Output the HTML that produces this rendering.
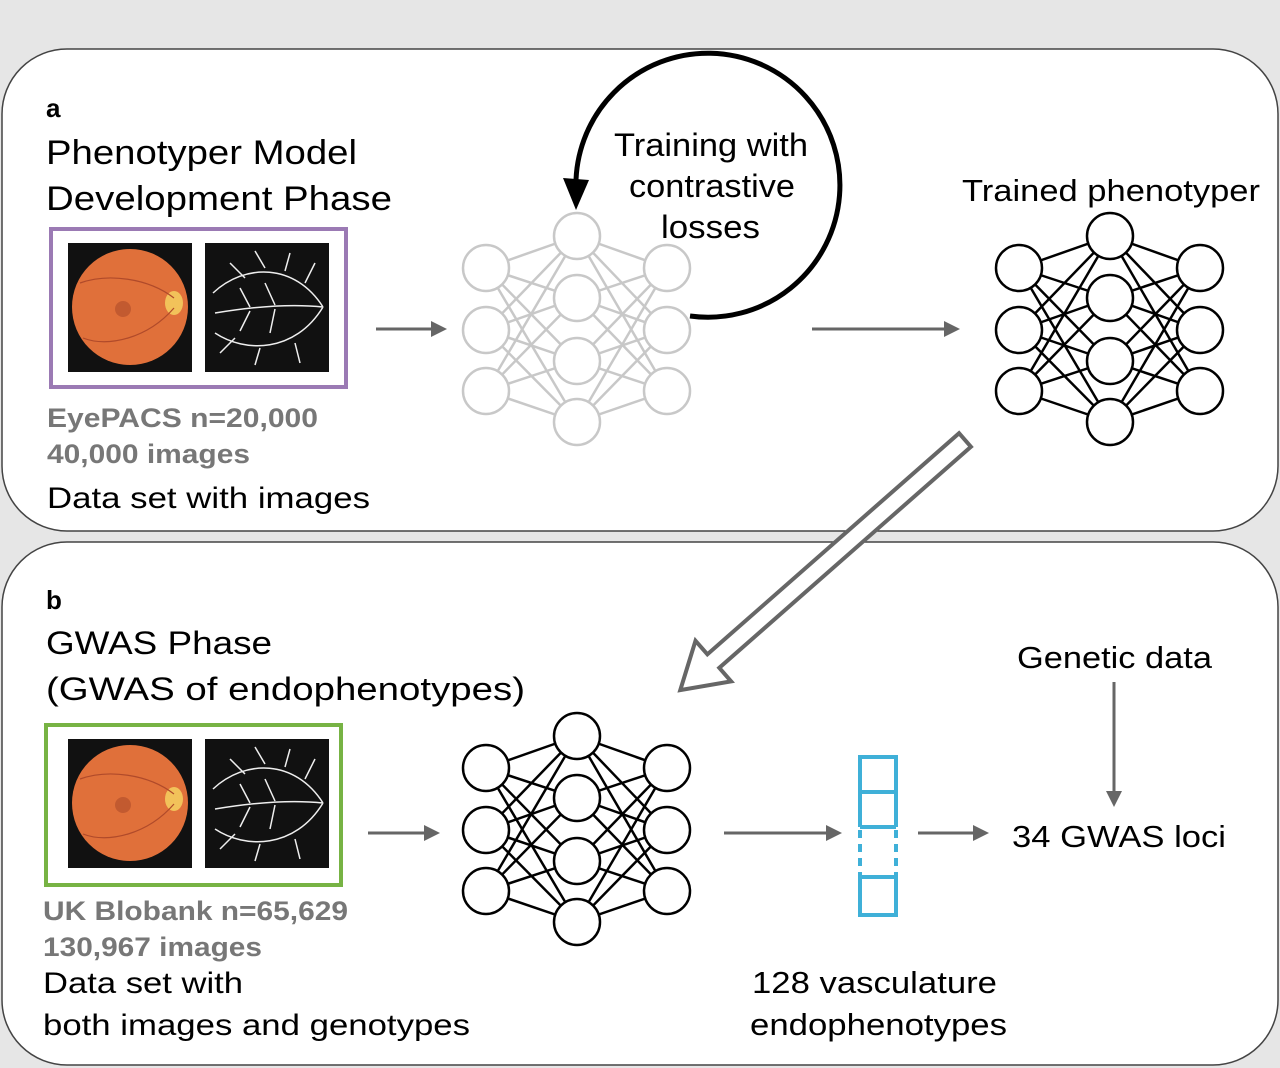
<!DOCTYPE html>
<html><head><meta charset="utf-8"><style>
html,body{margin:0;padding:0;background:#e6e6e6}
svg{display:block}
text{font-family:"Liberation Sans",Arial,sans-serif}
</style></head><body>
<svg width="1280" height="1068" viewBox="0 0 1280 1068" xmlns="http://www.w3.org/2000/svg">
<defs>
<g id="net">
<g>
<line x1="-91" y1="-62" x2="0" y2="-94"/><line x1="-91" y1="-62" x2="0" y2="-32"/><line x1="-91" y1="-62" x2="0" y2="31"/><line x1="-91" y1="-62" x2="0" y2="92"/>
<line x1="-91" y1="0" x2="0" y2="-94"/><line x1="-91" y1="0" x2="0" y2="-32"/><line x1="-91" y1="0" x2="0" y2="31"/><line x1="-91" y1="0" x2="0" y2="92"/>
<line x1="-91" y1="61" x2="0" y2="-94"/><line x1="-91" y1="61" x2="0" y2="-32"/><line x1="-91" y1="61" x2="0" y2="31"/><line x1="-91" y1="61" x2="0" y2="92"/>
<line x1="90" y1="-62" x2="0" y2="-94"/><line x1="90" y1="-62" x2="0" y2="-32"/><line x1="90" y1="-62" x2="0" y2="31"/><line x1="90" y1="-62" x2="0" y2="92"/>
<line x1="90" y1="0" x2="0" y2="-94"/><line x1="90" y1="0" x2="0" y2="-32"/><line x1="90" y1="0" x2="0" y2="31"/><line x1="90" y1="0" x2="0" y2="92"/>
<line x1="90" y1="61" x2="0" y2="-94"/><line x1="90" y1="61" x2="0" y2="-32"/><line x1="90" y1="61" x2="0" y2="31"/><line x1="90" y1="61" x2="0" y2="92"/>
</g>
<g fill="#fff">
<circle cx="-91" cy="-62" r="23"/><circle cx="-91" cy="0" r="23"/><circle cx="-91" cy="61" r="23"/>
<circle cx="0" cy="-94" r="23"/><circle cx="0" cy="-32" r="23"/><circle cx="0" cy="31" r="23"/><circle cx="0" cy="92" r="23"/>
<circle cx="90" cy="-62" r="23"/><circle cx="90" cy="0" r="23"/><circle cx="90" cy="61" r="23"/>
</g>
</g>
<g id="fundus">
<rect x="0" y="0" width="124" height="129" fill="#111"/>
<circle cx="62" cy="64" r="58" fill="#e0703a"/>
<circle cx="55" cy="66" r="8" fill="#c25a30"/>
<ellipse cx="106" cy="60" rx="9" ry="12" fill="#f2c25a"/>
<path d="M106 55 C80 35 40 30 12 40 M106 65 C80 95 40 105 15 95" stroke="#b04a2a" stroke-width="1.2" fill="none"/>
</g>
<g id="vessel">
<rect x="0" y="0" width="124" height="129" fill="#111"/>
<g stroke="#eee" stroke-width="1.5" fill="none">
<path d="M118 64 C90 20 40 20 8 50 M118 64 C90 110 40 110 10 90 M118 64 C80 60 40 65 10 70"/>
<path d="M60 25 L50 8 M80 28 L85 10 M40 35 L25 20 M90 100 L95 120 M55 105 L50 122 M30 95 L15 110 M70 62 L60 40 M70 66 L65 90 M100 40 L110 20 M45 64 L35 45 M45 68 L35 88"/>
</g>
</g>
</defs>

<path d="M67 49 H1213 A65 65 0 0 1 1278 114 V466 A65 65 0 0 1 1213 531 H67 A65 65 0 0 1 2 466 V114 A65 65 0 0 1 67 49 Z" fill="#fff" stroke="#444" stroke-width="1.5"/>
<path d="M67 542 H1213 A65 65 0 0 1 1278 607 V1000 A65 65 0 0 1 1213 1065 H67 A65 65 0 0 1 2 1000 V607 A65 65 0 0 1 67 542 Z" fill="#fff" stroke="#444" stroke-width="1.5"/>

<g lengthAdjust="spacingAndGlyphs">
<text x="46" y="117" font-size="26" font-weight="bold">a</text>
<text x="46" y="164" font-size="34" textLength="311" lengthAdjust="spacingAndGlyphs">Phenotyper Model</text>
<text x="46" y="210" font-size="34" textLength="346" lengthAdjust="spacingAndGlyphs">Development Phase</text>
</g>
<rect x="51" y="229" width="295" height="158" fill="#fff" stroke="#9b7ab4" stroke-width="4"/>
<use href="#fundus" x="68" y="243"/>
<use href="#vessel" x="205" y="243"/>
<text x="47" y="427" font-size="27" font-weight="bold" fill="#777" textLength="271" lengthAdjust="spacingAndGlyphs">EyePACS n=20,000</text>
<text x="47" y="463" font-size="27" font-weight="bold" fill="#777" textLength="203" lengthAdjust="spacingAndGlyphs">40,000 images</text>
<text x="47" y="508" font-size="30" textLength="323" lengthAdjust="spacingAndGlyphs">Data set with images</text>

<g stroke="#666" stroke-width="3" fill="#666">
<line x1="376" y1="329" x2="435" y2="329"/><path d="M447 329 L431 321 L431 337 Z" stroke="none"/>
<line x1="812" y1="329" x2="948" y2="329"/><path d="M960 329 L944 321 L944 337 Z" stroke="none"/>
<line x1="368" y1="833" x2="428" y2="833"/><path d="M440 833 L424 825 L424 841 Z" stroke="none"/>
<line x1="724" y1="833" x2="830" y2="833"/><path d="M842 833 L826 825 L826 841 Z" stroke="none"/>
<line x1="918" y1="833" x2="977" y2="833"/><path d="M989 833 L973 825 L973 841 Z" stroke="none"/>
<line x1="1114" y1="682" x2="1114" y2="795"/><path d="M1114 807 L1106 791 L1122 791 Z" stroke="none"/>
</g>

<use href="#net" x="577" y="330" stroke="#c8c8c8" stroke-width="2.5"/>
<use href="#net" x="1110" y="330" stroke="#000" stroke-width="2.5"/>
<use href="#net" x="577" y="830" stroke="#000" stroke-width="2.5"/>

<path d="M690 316 A132 132 0 1 0 576 190" fill="none" stroke="#000" stroke-width="5"/>
<path d="M576 210 L563 178 L589 180 Z" fill="#000"/>
<text x="614" y="156" font-size="32" textLength="194" lengthAdjust="spacingAndGlyphs">Training with</text>
<text x="629" y="197" font-size="32" textLength="166" lengthAdjust="spacingAndGlyphs">contrastive</text>
<text x="661" y="238" font-size="32" textLength="99" lengthAdjust="spacingAndGlyphs">losses</text>
<text x="962" y="201" font-size="31" textLength="298" lengthAdjust="spacingAndGlyphs">Trained phenotyper</text>

<g transform="translate(965,440) rotate(138.7)">
<path d="M0 -9 L335 -9 L335 -27 L379 0 L335 27 L335 9 L0 9 Z" fill="#fff" stroke="#666" stroke-width="4"/>
</g>

<text x="46" y="609" font-size="26" font-weight="bold">b</text>
<text x="46" y="654" font-size="32" textLength="226" lengthAdjust="spacingAndGlyphs">GWAS Phase</text>
<text x="46" y="700" font-size="32" textLength="479" lengthAdjust="spacingAndGlyphs">(GWAS of endophenotypes)</text>
<rect x="46" y="725" width="295" height="160" fill="#fff" stroke="#77b344" stroke-width="4"/>
<use href="#fundus" x="68" y="739"/>
<use href="#vessel" x="205" y="739"/>
<text x="43" y="920" font-size="27" font-weight="bold" fill="#777" textLength="305" lengthAdjust="spacingAndGlyphs">UK Blobank n=65,629</text>
<text x="43" y="956" font-size="27" font-weight="bold" fill="#777" textLength="219" lengthAdjust="spacingAndGlyphs">130,967 images</text>
<text x="43" y="993" font-size="30" textLength="200" lengthAdjust="spacingAndGlyphs">Data set with</text>
<text x="43" y="1035" font-size="30" textLength="427" lengthAdjust="spacingAndGlyphs">both images and genotypes</text>

<g stroke="#3fb0d8" stroke-width="4" fill="none">
<path d="M860 827 V757 H896 V827"/>
<line x1="860" y1="792" x2="896" y2="792"/>
<line x1="860" y1="827" x2="896" y2="827"/>
<path d="M860 877 V915 H896 V877"/>
<line x1="860" y1="877" x2="896" y2="877"/>
<line x1="860" y1="830" x2="860" y2="877" stroke-dasharray="8 6"/>
<line x1="896" y1="830" x2="896" y2="877" stroke-dasharray="8 6"/>
</g>

<text x="1017" y="668" font-size="31" textLength="195" lengthAdjust="spacingAndGlyphs">Genetic data</text>
<text x="1012" y="847" font-size="31" textLength="214" lengthAdjust="spacingAndGlyphs">34 GWAS loci</text>
<text x="752" y="993" font-size="31" textLength="245" lengthAdjust="spacingAndGlyphs">128 vasculature</text>
<text x="750" y="1035" font-size="31" textLength="257" lengthAdjust="spacingAndGlyphs">endophenotypes</text>
</svg>
</body></html>
